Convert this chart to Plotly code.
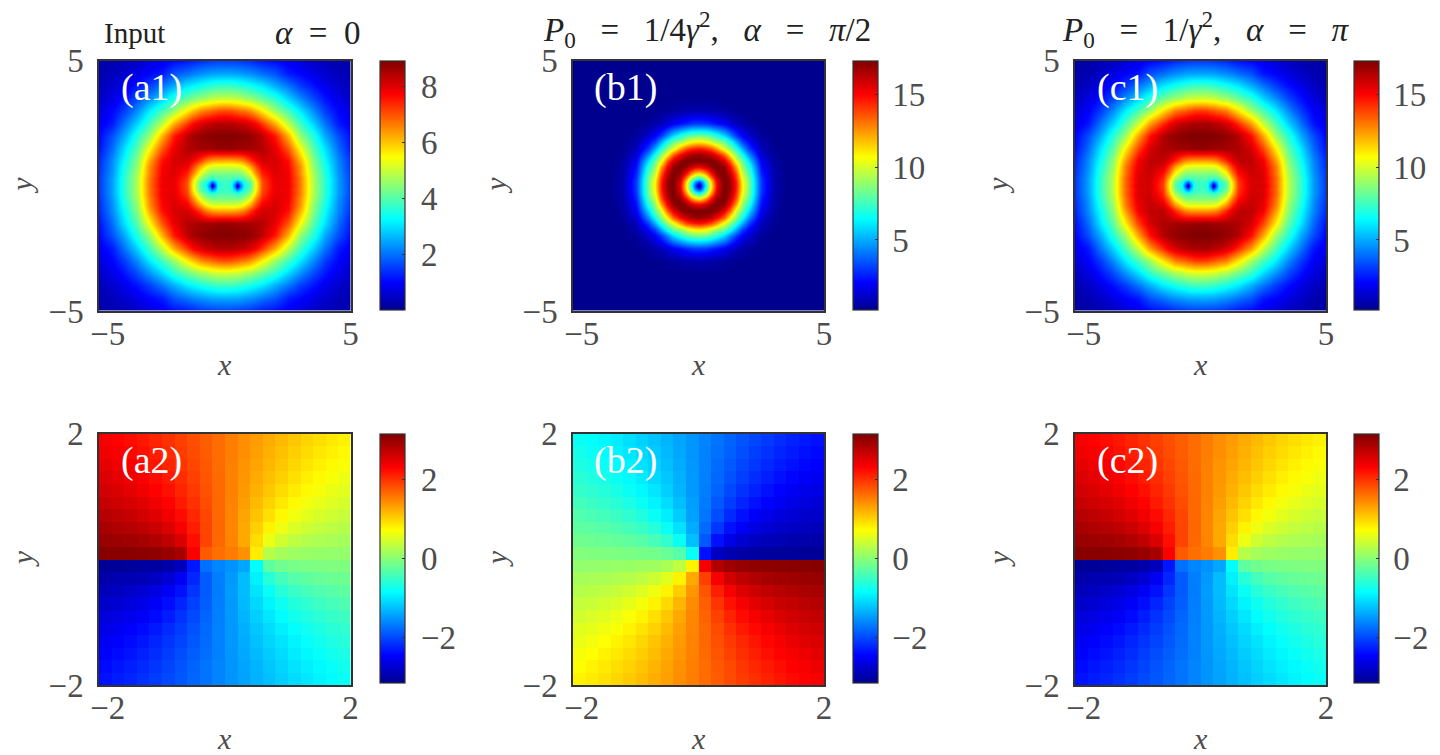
import numpy as np
import plotly.graph_objects as go

# quarter grids for the intensity panels (rows go up from y=0, columns go right from x=0)
a_x = [0, .25, .4, .5, .6, .75, 1, 1.25, 1.5, 2, 2.5, 3, 3.5, 4, 4.5, 5]
a_y = [0, .15, .3, .5, .75, 1, 1.5, 2, 2.5, 3, 3.5, 4, 4.5, 5]
b_q = [0, .15, .3, .5, .75, 1, 1.25, 1.5, 1.75, 2, 2.5, 3, 3.5, 5]

intensity_a1 = [
    [3.75, 3.5, 1.8, .1, 1.8, 3.3, 4.0, 5.5, 7.0, 7.9, 7.9, 6.65, 4.8, 3.6, 2.4, 1.5],
    [3.8, 3.6, 2.7, 2.1, 2.7, 3.5, 4.1, 5.6, 7.05, 7.9, 7.8, 6.62, 4.8, 3.63, 2.4, 1.49],
    [3.95, 3.9, 3.8, 3.7, 3.75, 4.0, 4.6, 5.9, 7.15, 7.95, 7.85, 6.63, 4.78, 3.61, 2.41, 1.49],
    [4.3, 4.3, 4.3, 4.3, 4.35, 4.6, 5.3, 6.5, 7.4, 8.0, 7.8, 6.49, 4.72, 3.52, 2.33, 1.45],
    [5.1, 5.1, 5.1, 5.15, 5.2, 5.5, 6.2, 7.1, 7.8, 8.05, 7.7, 6.44, 4.53, 3.43, 2.26, 1.39],
    [6.2, 6.2, 6.25, 6.3, 6.4, 6.6, 7.2, 7.75, 8.1, 8.1, 7.6, 6.17, 4.43, 3.27, 2.21, 1.34],
    [8.7, 8.7, 8.65, 8.6, 8.6, 8.6, 8.55, 8.5, 8.4, 7.91, 6.96, 5.44, 4.0, 2.98, 1.94, 1.14],
    [8.85, 8.85, 8.85, 8.85, 8.8, 8.8, 8.7, 8.55, 8.3, 7.5, 6.12, 4.5, 3.55, 2.48, 1.68, 1.03],
    [8.4, 8.4, 8.35, 8.3, 8.25, 8.2, 8.0, 7.7, 7.2, 6.18, 4.88, 3.8, 2.86, 2.0, 1.19, .84],
    [7.03, 6.98, 6.86, 6.83, 6.71, 6.65, 6.43, 6.0, 5.59, 4.59, 3.83, 3.06, 2.23, 1.5, .99, .68],
    [5.0, 4.96, 4.93, 4.9, 4.88, 4.69, 4.58, 4.34, 4.11, 3.6, 2.88, 2.24, 1.62, 1.13, .75, .48],
    [3.74, 3.72, 3.69, 3.63, 3.57, 3.53, 3.36, 3.2, 3.04, 2.52, 2.01, 1.5, 1.13, .8, .54, .37],
    [2.46, 2.45, 2.44, 2.43, 2.4, 2.32, 2.25, 2.13, 1.97, 1.71, 1.2, 1.0, .75, .54, .38, .29],
    [1.51, 1.51, 1.47, 1.47, 1.43, 1.42, 1.36, 1.23, 1.15, 1.04, .85, .68, .48, .37, .29, .25],
]

intensity_c1 = [
    [7.5, 7.0, 3.6, .2, 3.6, 6.6, 8.0, 11.0, 14.0, 15.8, 15.8, 13.3, 9.6, 7.2, 4.8, 3.0],
    [7.6, 7.2, 5.4, 4.2, 5.4, 7.0, 8.2, 11.2, 14.1, 15.8, 15.6, 13.2, 9.6, 7.26, 4.8, 2.98],
    [7.9, 7.8, 7.6, 7.4, 7.5, 8.0, 9.2, 11.8, 14.3, 15.9, 15.7, 13.3, 9.56, 7.22, 4.82, 2.98],
    [8.6, 8.6, 8.6, 8.6, 8.7, 9.2, 10.6, 13.0, 14.8, 16.0, 15.6, 13.0, 9.44, 7.04, 4.66, 2.9],
    [10.2, 10.2, 10.2, 10.3, 10.4, 11.0, 12.4, 14.2, 15.6, 16.1, 15.4, 12.9, 9.06, 6.86, 4.52, 2.78],
    [12.4, 12.4, 12.5, 12.6, 12.8, 13.2, 14.4, 15.5, 16.2, 16.2, 15.2, 12.3, 8.86, 6.54, 4.42, 2.68],
    [17.0, 17.0, 16.9, 16.8, 16.8, 16.8, 16.7, 16.6, 16.5, 15.8, 13.9, 10.9, 8.0, 5.96, 3.88, 2.28],
    [17.3, 17.3, 17.3, 17.3, 17.2, 17.2, 17.0, 16.8, 16.4, 14.8, 12.2, 9.0, 7.1, 4.96, 3.36, 2.06],
    [16.6, 16.6, 16.5, 16.4, 16.3, 16.2, 15.8, 15.2, 14.3, 12.4, 9.76, 7.6, 5.72, 4.0, 2.38, 1.68],
    [14.1, 14.0, 13.7, 13.7, 13.4, 13.3, 12.9, 12.0, 11.2, 9.18, 7.66, 6.12, 4.46, 3.0, 1.98, 1.36],
    [10.0, 9.92, 9.86, 9.8, 9.76, 9.38, 9.16, 8.68, 8.22, 7.2, 5.76, 4.48, 3.24, 2.26, 1.5, .96],
    [7.48, 7.44, 7.38, 7.26, 7.14, 7.06, 6.72, 6.4, 6.08, 5.04, 4.02, 3.0, 2.26, 1.6, 1.08, .74],
    [4.92, 4.9, 4.88, 4.86, 4.8, 4.64, 4.5, 4.26, 3.94, 3.42, 2.4, 2.0, 1.5, 1.08, .76, .58],
    [3.02, 3.02, 2.94, 2.94, 2.86, 2.84, 2.72, 2.46, 2.3, 2.08, 1.7, 1.36, .96, .74, .58, .5],
]

intensity_b1 = [
    [.1, 3.3, 6.8, 11, 15.4, 17.5, 16.9, 14.6, 11, 8.4, 3, .7, .18, .01],
    [3.3, 4.8, 7.6, 11.5, 15.6, 17.5, 16.8, 14.5, 10.9, 8.3, 3, .7, .18, .01],
    [6.8, 7.6, 9.5, 12.7, 16.1, 17.5, 16.6, 14.2, 10.6, 8.2, 2.9, .68, .17, .01],
    [11, 11.5, 12.7, 14.9, 17, 17.45, 16.1, 13.6, 9.9, 7.7, 2.6, .62, .16, .01],
    [15.4, 15.6, 16.1, 17, 17.5, 16.9, 15, 12.2, 8.9, 6.9, 2.25, .55, .14, .01],
    [17.5, 17.5, 17.5, 17.45, 16.9, 15.5, 13.4, 10.2, 8.2, 5.8, 1.85, .45, .12, .01],
    [16.9, 16.8, 16.6, 16.1, 15, 13.4, 10.8, 8.7, 6.7, 4.4, 1.3, .33, .1, .01],
    [14.6, 14.5, 14.2, 13.6, 12.2, 10.2, 8.7, 7, 5, 3, .9, .24, .08, .01],
    [11, 10.9, 10.6, 9.9, 8.9, 8.2, 6.7, 5, 3.2, 2, .62, .19, .06, .01],
    [8.4, 8.3, 8.2, 7.7, 6.9, 5.8, 4.4, 3, 2, 1.2, .37, .13, .05, .01],
    [3, 3, 2.9, 2.6, 2.25, 1.85, 1.3, .9, .62, .37, .16, .06, .03, .01],
    [.7, .7, .68, .62, .55, .45, .33, .24, .19, .13, .06, .04, .02, .01],
    [.18, .18, .17, .16, .14, .12, .1, .08, .06, .05, .03, .02, .01, .01],
    [.01, .01, .01, .01, .01, .01, .01, .01, .01, .01, .01, .01, .01, .01],
]

# phase panels, whole grid, rows from top to bottom
phase_x = [-1.9, -1.7, -1.5, -1.3, -1.1, -.9, -.7, -.5, -.3, -.1, .1, .3, .5, .7, .9, 1.1, 1.3, 1.5, 1.7, 1.9]
phase_y = [1.9, 1.7, 1.5, 1.3, 1.1, .9, .7, .5, .3, .1, -.1, -.3, -.5, -.7, -.9, -1.1, -1.3, -1.5, -1.7, -1.9]

phase_a2 = [
    [2.34, 2.28, 2.22, 2.15, 2.07, 1.99, 1.90, 1.81, 1.72, 1.62, 1.52, 1.42, 1.33, 1.24, 1.15, 1.07, .99, .92, .86, .80],
    [2.39, 2.33, 2.27, 2.20, 2.12, 2.03, 1.93, 1.83, 1.73, 1.62, 1.52, 1.41, 1.31, 1.21, 1.11, 1.02, .94, .87, .81, .75],
    [2.45, 2.39, 2.33, 2.25, 2.17, 2.07, 1.97, 1.86, 1.75, 1.63, 1.51, 1.39, 1.28, 1.17, 1.07, .97, .89, .81, .75, .69],
    [2.52, 2.46, 2.39, 2.32, 2.23, 2.13, 2.02, 1.90, 1.77, 1.64, 1.50, 1.37, 1.24, 1.12, 1.01, .91, .82, .75, .68, .62],
    [2.59, 2.54, 2.47, 2.39, 2.30, 2.20, 2.07, 1.94, 1.79, 1.64, 1.50, 1.35, 1.20, 1.07, .94, .84, .75, .67, .60, .55],
    [2.67, 2.62, 2.56, 2.49, 2.39, 2.28, 2.14, 1.99, 1.82, 1.65, 1.49, 1.32, 1.15, 1.00, .86, .75, .65, .58, .52, .47],
    [2.77, 2.72, 2.67, 2.59, 2.50, 2.38, 2.23, 2.05, 1.86, 1.66, 1.48, 1.28, 1.09, .91, .76, .64, .55, .47, .42, .37],
    [2.87, 2.83, 2.79, 2.72, 2.64, 2.52, 2.35, 2.12, 1.88, 1.67, 1.47, 1.26, 1.02, .79, .62, .50, .42, .35, .31, .27],
    [2.97, 2.95, 2.92, 2.88, 2.82, 2.71, 2.53, 2.21, 1.88, 1.66, 1.48, 1.26, .93, .61, .43, .32, .26, .22, .19, .17],
    [3.08, 3.08, 3.07, 3.05, 3.03, 2.98, 2.87, 2.31, 1.74, 1.61, 1.53, 1.40, .84, .27, .16, .11, .09, .07, .06, .06],
    [-3.08, -3.08, -3.07, -3.05, -3.03, -2.98, -2.87, -2.31, -1.74, -1.61, -1.53, -1.40, -.84, -.27, -.16, -.11, -.09, -.07, -.06, -.06],
    [-2.97, -2.95, -2.92, -2.88, -2.82, -2.71, -2.53, -2.21, -1.88, -1.66, -1.48, -1.26, -.93, -.61, -.43, -.32, -.26, -.22, -.19, -.17],
    [-2.87, -2.83, -2.79, -2.72, -2.64, -2.52, -2.35, -2.12, -1.88, -1.67, -1.47, -1.26, -1.02, -.79, -.62, -.50, -.42, -.35, -.31, -.27],
    [-2.77, -2.72, -2.67, -2.59, -2.50, -2.38, -2.23, -2.05, -1.86, -1.66, -1.48, -1.28, -1.09, -.91, -.76, -.64, -.55, -.47, -.42, -.37],
    [-2.67, -2.62, -2.56, -2.49, -2.39, -2.28, -2.14, -1.99, -1.82, -1.65, -1.49, -1.32, -1.15, -1.00, -.86, -.75, -.65, -.58, -.52, -.47],
    [-2.59, -2.54, -2.47, -2.39, -2.30, -2.20, -2.07, -1.94, -1.79, -1.64, -1.50, -1.35, -1.20, -1.07, -.94, -.84, -.75, -.67, -.60, -.55],
    [-2.52, -2.46, -2.39, -2.32, -2.23, -2.13, -2.02, -1.90, -1.77, -1.64, -1.50, -1.37, -1.24, -1.12, -1.01, -.91, -.82, -.75, -.68, -.62],
    [-2.45, -2.39, -2.33, -2.25, -2.17, -2.07, -1.97, -1.86, -1.75, -1.63, -1.51, -1.39, -1.28, -1.17, -1.07, -.97, -.89, -.81, -.75, -.69],
    [-2.39, -2.33, -2.27, -2.20, -2.12, -2.03, -1.93, -1.83, -1.73, -1.62, -1.52, -1.41, -1.31, -1.21, -1.11, -1.02, -.94, -.87, -.81, -.75],
    [-2.34, -2.28, -2.22, -2.15, -2.07, -1.99, -1.90, -1.81, -1.72, -1.62, -1.52, -1.42, -1.33, -1.24, -1.15, -1.07, -.99, -.92, -.86, -.80],
]

phase_b2 = [
    [-.79, -.84, -.90, -.97, -1.05, -1.13, -1.22, -1.31, -1.41, -1.52, -1.62, -1.73, -1.83, -1.92, -2.01, -2.09, -2.17, -2.24, -2.30, -2.35],
    [-.73, -.79, -.85, -.92, -1.00, -1.08, -1.18, -1.29, -1.40, -1.51, -1.63, -1.74, -1.85, -1.96, -2.06, -2.14, -2.22, -2.29, -2.35, -2.41],
    [-.67, -.72, -.79, -.86, -.94, -1.03, -1.13, -1.25, -1.37, -1.50, -1.64, -1.77, -1.89, -2.01, -2.11, -2.20, -2.28, -2.35, -2.42, -2.47],
    [-.60, -.65, -.71, -.79, -.87, -.97, -1.08, -1.20, -1.34, -1.49, -1.65, -1.80, -1.94, -2.06, -2.17, -2.27, -2.35, -2.43, -2.49, -2.54],
    [-.53, -.57, -.63, -.70, -.79, -.89, -1.00, -1.14, -1.31, -1.48, -1.66, -1.83, -2.00, -2.14, -2.25, -2.35, -2.44, -2.51, -2.57, -2.61],
    [-.44, -.49, -.54, -.61, -.69, -.79, -.91, -1.06, -1.25, -1.46, -1.68, -1.89, -2.08, -2.23, -2.35, -2.45, -2.53, -2.60, -2.65, -2.70],
    [-.35, -.39, -.44, -.49, -.57, -.66, -.79, -.95, -1.17, -1.43, -1.71, -1.97, -2.19, -2.35, -2.48, -2.57, -2.65, -2.70, -2.75, -2.79],
    [-.26, -.29, -.32, -.37, -.43, -.51, -.62, -.79, -1.03, -1.37, -1.77, -2.11, -2.35, -2.52, -2.63, -2.71, -2.77, -2.82, -2.85, -2.88],
    [-.16, -.18, -.20, -.23, -.27, -.32, -.41, -.54, -.79, -1.25, -1.89, -2.35, -2.60, -2.73, -2.82, -2.87, -2.91, -2.94, -2.96, -2.98],
    [-.05, -.06, -.07, -.08, -.09, -.11, -.14, -.20, -.32, -.79, -2.35, -2.82, -2.94, -3.00, -3.03, -3.05, -3.06, -3.07, -3.08, -3.09],
    [.05, .06, .07, .08, .09, .11, .14, .20, .32, .79, 2.35, 2.82, 2.94, 3.00, 3.03, 3.05, 3.06, 3.07, 3.08, 3.09],
    [.16, .18, .20, .23, .27, .32, .41, .54, .79, 1.25, 1.89, 2.35, 2.60, 2.73, 2.82, 2.87, 2.91, 2.94, 2.96, 2.98],
    [.26, .29, .32, .37, .43, .51, .62, .79, 1.03, 1.37, 1.77, 2.11, 2.35, 2.52, 2.63, 2.71, 2.77, 2.82, 2.85, 2.88],
    [.35, .39, .44, .49, .57, .66, .79, .95, 1.17, 1.43, 1.71, 1.97, 2.19, 2.35, 2.48, 2.57, 2.65, 2.70, 2.75, 2.79],
    [.44, .49, .54, .61, .69, .79, .91, 1.06, 1.25, 1.46, 1.68, 1.89, 2.08, 2.23, 2.35, 2.45, 2.53, 2.60, 2.65, 2.70],
    [.53, .57, .63, .70, .79, .89, 1.00, 1.14, 1.31, 1.48, 1.66, 1.83, 2.00, 2.14, 2.25, 2.35, 2.44, 2.51, 2.57, 2.61],
    [.60, .65, .71, .79, .87, .97, 1.08, 1.20, 1.34, 1.49, 1.65, 1.80, 1.94, 2.06, 2.17, 2.27, 2.35, 2.43, 2.49, 2.54],
    [.67, .72, .79, .86, .94, 1.03, 1.13, 1.25, 1.37, 1.50, 1.64, 1.77, 1.89, 2.01, 2.11, 2.20, 2.28, 2.35, 2.42, 2.47],
    [.73, .79, .85, .92, 1.00, 1.08, 1.18, 1.29, 1.40, 1.51, 1.63, 1.74, 1.85, 1.96, 2.06, 2.14, 2.22, 2.29, 2.35, 2.41],
    [.79, .84, .90, .97, 1.05, 1.13, 1.22, 1.31, 1.41, 1.52, 1.62, 1.73, 1.83, 1.92, 2.01, 2.09, 2.17, 2.24, 2.30, 2.35],
]
phase_c2 = phase_a2

# matlab jet
jet = [[0, "rgb(0,0,143)"], [.11, "rgb(0,0,255)"], [.365, "rgb(0,255,255)"],
       [.615, "rgb(255,255,0)"], [.865, "rgb(255,0,0)"], [1, "rgb(128,0,0)"]]

W, H = 1440, 755
FONT = "Liberation Serif"
GREY = "#4d4d4d"
FRAME = "#333333"
NBSP, THIN = "\u00a0", "\u2009"
GAP = NBSP * 3


def unfold(quarter):
    q = np.array(quarter)
    half = np.vstack([q[:0:-1], q])
    return np.hstack([half[:, :0:-1], half])


def both_sides(vals):
    v = np.array(vals)
    return np.concatenate([-v[:0:-1], v])


def minus(v):
    return str(v).replace("-", "\u2212")


# pixel boxes of each panel: left, right, top, bottom, colorbar left, colorbar label pad
panels = [
    ("a1", 99, 350.5, 60.5, 311, 380, NBSP),
    ("b1", 573, 824, 60.5, 311, 853, THIN),
    ("c1", 1075, 1326, 60.5, 311, 1354, THIN),
    ("a2", 99, 350.5, 433.5, 685, 380, NBSP),
    ("b2", 573, 824, 433.5, 685, 853, THIN),
    ("c2", 1075, 1326, 433.5, 685, 1354, THIN),
]
data = {
    "a1": (both_sides(a_x), both_sides(a_y), unfold(intensity_a1), 0, 8.9, [2, 4, 6, 8], 5),
    "b1": (both_sides(b_q), both_sides(b_q), unfold(intensity_b1), .17, 17.34, [5, 10, 15], 5),
    "c1": (both_sides(a_x), both_sides(a_y), unfold(intensity_c1), .17, 17.34, [5, 10, 15], 5),
    "a2": (phase_x, phase_y, phase_a2, -3.14, 3.14, [-2, 0, 2], 2),
    "b2": (phase_x, phase_y, phase_b2, -3.14, 3.14, [-2, 0, 2], 2),
    "c2": (phase_x, phase_y, phase_c2, -3.14, 3.14, [-2, 0, 2], 2),
}

fig = go.Figure()
notes = []
for i, (name, left, right, top, bottom, cb_left, pad) in enumerate(panels):
    xs, ys, z, zmin, zmax, cb_ticks, lim = data[name]
    ax = "" if i == 0 else str(i + 1)
    fig.add_trace(go.Heatmap(
        x=xs, y=ys, z=z, zmin=zmin, zmax=zmax, colorscale=jet,
        zsmooth="best" if name.endswith("1") else False,
        xaxis="x" + ax, yaxis="y" + ax,
        colorbar=dict(
            x=cb_left / W, xanchor="left", xpad=0, ypad=0,
            y=1 - (top + .5) / H, yanchor="top",
            len=249, lenmode="pixels", thickness=25, thicknessmode="pixels",
            tickmode="array", tickvals=cb_ticks, ticktext=[pad + minus(t) for t in cb_ticks],
            ticks="inside", ticklen=3, tickcolor=FRAME,
            tickfont=dict(family=FONT, size=33, color=GREY),
            outlinecolor=FRAME, outlinewidth=1.2,
        ),
    ))
    common = dict(
        range=[-lim, lim], ticks="", showgrid=False, zeroline=False,
        showline=True, mirror=True, linecolor=FRAME, linewidth=1.5,
        tickfont=dict(family=FONT, size=33, color=GREY),
    )
    # the -lim x label sits a little right of the corner in the reference
    fig.update_layout({
        "xaxis" + ax: dict(domain=[left / W, right / W], anchor="y" + ax, ticklabelstandoff=-7,
                           tickvals=[-lim * .93, lim], ticktext=[minus(-lim), str(lim)], **common),
        "yaxis" + ax: dict(domain=[1 - bottom / H, 1 - top / H], anchor="x" + ax, ticklabelstandoff=7,
                           tickvals=[-lim, lim], ticktext=[minus(-lim), str(lim)], **common),
    })
    mid_x, mid_y = (left + right) / 2, (top + bottom) / 2
    notes.append(dict(x=mid_x, y=bottom + 53, text="<i>x</i>", size=30, color=GREY))
    notes.append(dict(x=left - 77, y=mid_y, text="<i>y</i>", size=30, color=GREY, angle=-90))
    notes.append(dict(x=left + 52, y=top + 27, text="(%s)" % name, size=38, color="white"))

notes.append(dict(x=134, y=33, text="Input", size=29, color="#222222"))
notes.append(dict(x=317, y=33, text="<i>α</i>" + NBSP * 2 + "=" + NBSP * 2 + "0", size=33, color="#222222"))
notes.append(dict(x=707, y=30, text="<i>P</i><sub>0</sub>" + GAP + "=" + GAP + "1/4<i>γ</i><sup>2</sup>," + GAP + "<i>α</i>" + GAP + "=" + GAP + "<i>π</i>/2", size=33, color="#222222"))
notes.append(dict(x=1206, y=30, text="<i>P</i><sub>0</sub>" + GAP + "=" + GAP + "1/<i>γ</i><sup>2</sup>," + GAP + "<i>α</i>" + GAP + "=" + GAP + "<i>π</i>", size=33, color="#222222"))

for n in notes:
    fig.add_annotation(
        x=n["x"] / W, y=1 - n["y"] / H, xref="paper", yref="paper", text=n["text"],
        showarrow=False, textangle=n.get("angle", 0), xanchor="center", yanchor="middle",
        font=dict(family=FONT, size=n["size"], color=n["color"]),
    )

fig.update_layout(width=W, height=H, margin=dict(l=0, r=0, t=0, b=0, autoexpand=False),
                  paper_bgcolor="white", plot_bgcolor="white")
fig.write_html("out.html", config={"displayModeBar": False},
               post_script="document.body.style.margin='0';")
